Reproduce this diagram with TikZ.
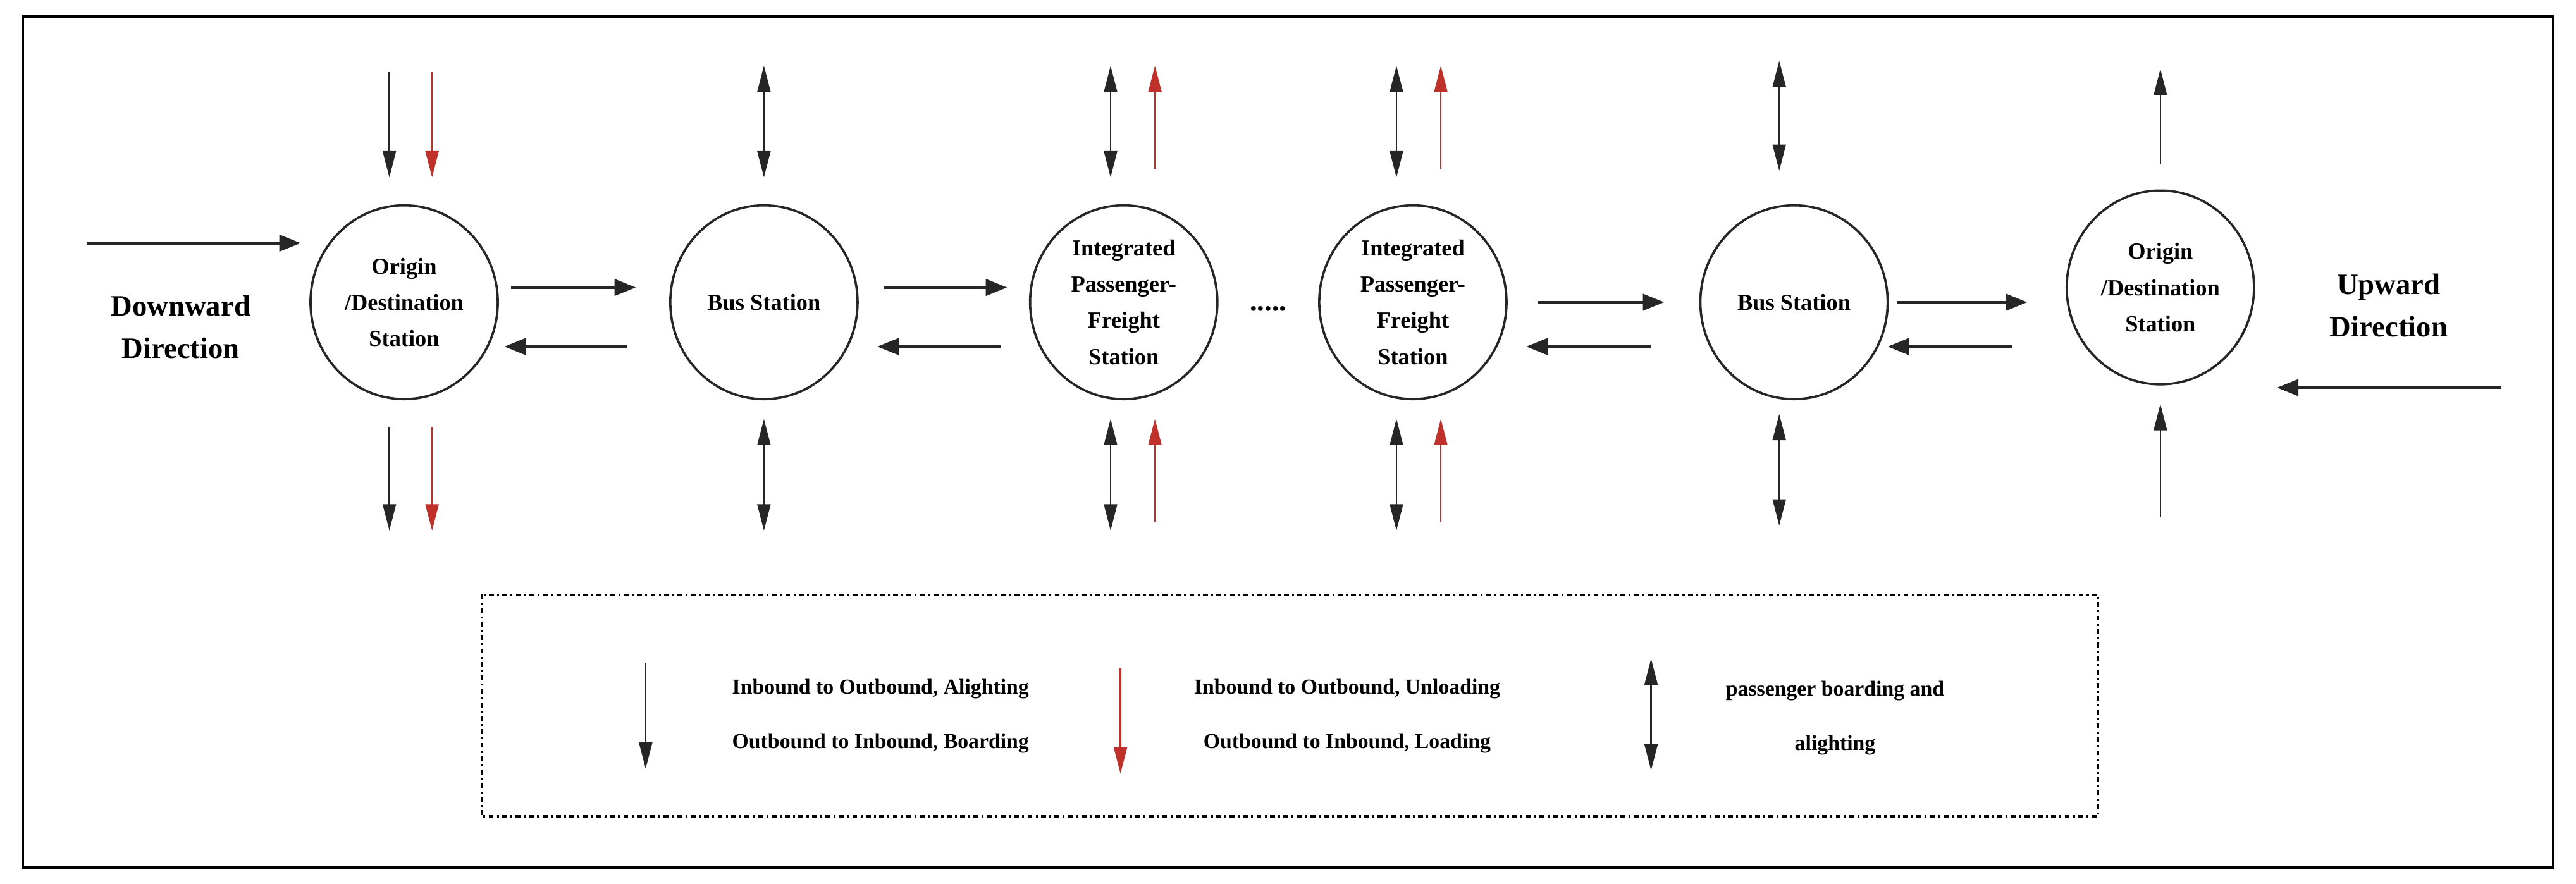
\documentclass[tikz,border=0pt]{standalone}
\usepackage{fontspec}
\setmainfont{Liberation Serif}[BoldFont={Liberation Serif Bold},ItalicFont={Liberation Serif Italic}]
\usetikzlibrary{arrows.meta,shapes.geometric}
\definecolor{rd}{HTML}{C0302B}
\begin{document}
\begin{tikzpicture}[x=1pt,y=-1pt,
  st/.style={ellipse,draw=black!85,line width=1.4pt,minimum width=114pt,minimum height=118pt,inner sep=0pt,align=center,font=\bfseries\fontsize{14}{22}\selectfont},
  harr/.style={draw=black!85,line width=1.6pt,-{Triangle[length=13pt,width=10pt]}},
  varr/.style={draw=black!85,line width=1pt,-{Triangle[length=16pt,width=8pt]}},
  vd/.style={draw=black!85,line width=1pt,{Triangle[length=16pt,width=8pt]}-{Triangle[length=16pt,width=8pt]}},
  rarr/.style={draw=rd,fill=rd,line width=1pt,-{Triangle[length=16pt,width=8pt]}},
  big/.style={font=\bfseries\fontsize{18}{26}\selectfont,align=center},
  leg/.style={font=\bfseries\fontsize{13}{33}\selectfont,align=center}]
\useasboundingbox (0,0) rectangle (1568,538);
\draw[line width=1.6pt] (14,10) rectangle (1554,528);
% stations
\node[st] (o1) at (246,184) {Origin\\/Destination\\Station};
\node[st] (b1) at (465,184) {Bus Station};
\node[st] (i1) at (684,184) {Integrated\\Passenger-\\Freight\\Station};
\node[st] (i2) at (860,184) {Integrated\\Passenger-\\Freight\\Station};
\node[st] (b2) at (1092,184) {Bus Station};
\node[st] (o2) at (1315,175) {Origin\\/Destination\\Station};
\node[font=\bfseries\fontsize{18}{18}\selectfont] (dots) at (772,188) {.....};
\node[big] (dd) at (110,199) {Downward\\Direction};
\node[big] (ud) at (1454,186) {Upward\\Direction};
% direction arrows
\draw[harr] (53,148) -- (183,148);
\draw[harr] (1522,236) -- (1386,236);
% horizontal arrows
\draw[harr] (311,175) -- (387,175);
\draw[harr] (382,211) -- (307,211);
\draw[harr] (538,175) -- (613,175);
\draw[harr] (609,211) -- (534,211);
\draw[harr] (936,184) -- (1013,184);
\draw[harr] (1005,211) -- (929,211);
\draw[harr] (1155,184) -- (1234,184);
\draw[harr] (1225,211) -- (1149,211);
% origin 1
\draw[varr] (237,44) -- (237,108);
\draw[rarr] (263,44) -- (263,108);
\draw[varr] (237,260) -- (237,323);
\draw[rarr] (263,260) -- (263,323);
% bus 1
\draw[vd] (465,40) -- (465,108);
\draw[vd] (465,255) -- (465,323);
% IPF 1
\draw[vd] (676,40) -- (676,108);
\draw[rarr] (703,103) -- (703,40);
\draw[vd] (676,255) -- (676,323);
\draw[rarr] (703,318) -- (703,255);
% IPF 2
\draw[vd] (850,40) -- (850,108);
\draw[rarr] (877,103) -- (877,40);
\draw[vd] (850,255) -- (850,323);
\draw[rarr] (877,318) -- (877,255);
% bus 2
\draw[vd] (1083,37) -- (1083,104);
\draw[vd] (1083,252) -- (1083,320);
% origin 2
\draw[varr] (1315,100) -- (1315,42);
\draw[varr] (1315,315) -- (1315,246);
% legend
\draw[line width=1.2pt,dash dot] (293,362) rectangle (1277,497);
\draw[varr] (393,404) -- (393,468);
\node[leg] (l1) at (536,436) {Inbound to Outbound, Alighting\\Outbound to Inbound, Boarding};
\draw[rarr] (682,407) -- (682,471);
\node[leg] (l2) at (820,436) {Inbound to Outbound, Unloading\\Outbound to Inbound, Loading};
\draw[vd] (1005,401) -- (1005,469);
\node[leg] (l3) at (1117,437) {passenger boarding and\\alighting};
\end{tikzpicture}
\end{document}
